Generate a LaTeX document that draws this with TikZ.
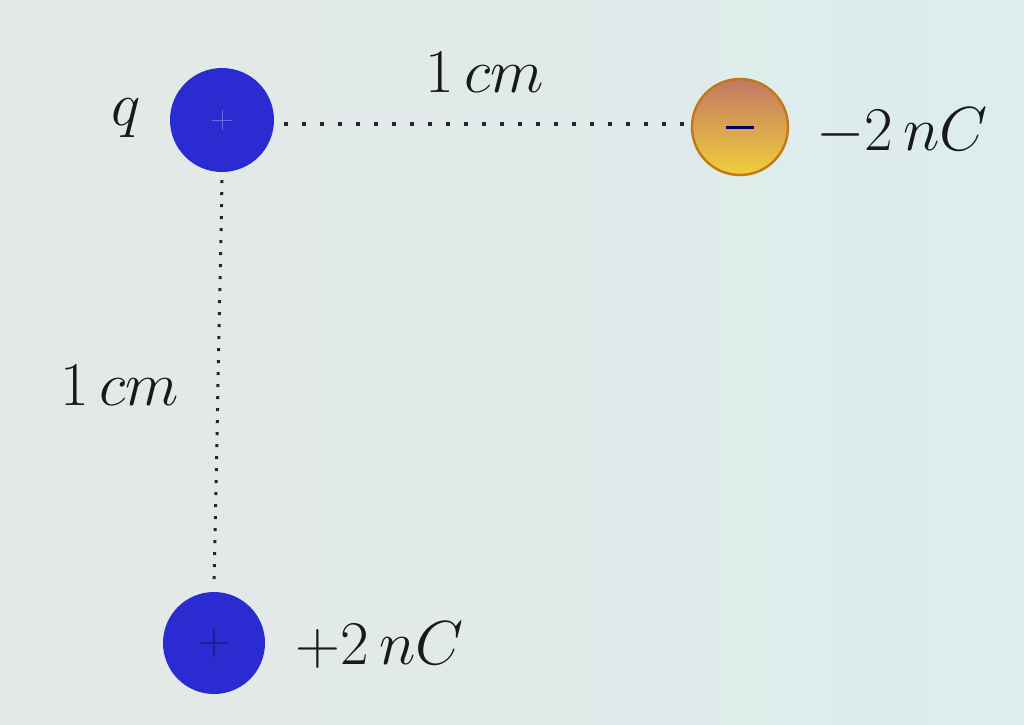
\documentclass[tikz,border=0pt]{standalone}
\usetikzlibrary{shadings}
\definecolor{bgL}{HTML}{E4E8E6}
\definecolor{bgR}{HTML}{DCEDEC}
\definecolor{chargeblue}{HTML}{2B2BD2}
\definecolor{plusline}{HTML}{6A6AE8}
\definecolor{negtop}{HTML}{C27866}
\definecolor{negbot}{HTML}{F2CE3A}
\definecolor{negedge}{HTML}{C07A18}
\definecolor{dotgray}{HTML}{252532}
\tikzset{
  lbl/.style={inner sep=0pt, font=\Huge, scale=2.5, text=black!90},
  poscharge/.style={circle, fill=chargeblue, minimum size=#1, inner sep=0pt},
  negcharge/.style={circle, draw=negedge, line width=2.5pt, top color=negtop, bottom color=negbot, minimum size=#1, inner sep=0pt},
  hsep/.style={dotgray, line width=3.5pt, dash pattern=on 3.5pt off 14.5pt},
  vsep/.style={dotgray, line width=3pt, dash pattern=on 3pt off 9pt}
}
\begin{document}
\begin{tikzpicture}[x=1pt,y=-1pt]
\shade[left color=bgL, right color=bgR] (0,0) rectangle (1024,724);
\useasboundingbox (0,0) rectangle (1024,724);
\node[poscharge=104pt] (q) at (222,120) {};
\node[negcharge=96pt] (neg) at (740,127) {};
\node[poscharge=102pt] (pos) at (214,643) {};
% signs
\draw[plusline, line width=1pt] ([xshift=-10pt]q.center) -- ([xshift=10pt]q.center) ([yshift=-10pt]q.center) -- ([yshift=10pt]q.center);
\draw[chargeblue!70!black, line width=2pt] ([xshift=-14pt]pos.center) -- ([xshift=14pt]pos.center) ([yshift=-14pt]pos.center) -- ([yshift=14pt]pos.center);
\draw[blue!40!black, line width=3pt] ([xshift=-14pt]neg.center) -- ([xshift=14pt]neg.center);
% separations
\path (q.east) ++(10,4) coordinate (h1);
\path (neg.west |- h1) ++(-2,0) coordinate (h2);
\draw[hsep] (h1) -- (h2);
\path (q.south) ++(0,8) coordinate (v1);
\path (pos.north) ++(0,-4) coordinate (v2);
\draw[vsep] (v1) -- (v2);
% labels
\node[lbl] (lq) at (126,118) {$q$};
\node[lbl] (lh) at (485,72) {$1\,cm$};
\node[lbl] (lneg) at (902,132) {$-2\,nC$};
\node[lbl] (lv) at (120,385) {$1\,cm$};
\node[lbl] (lpos) at (380,645) {$+2\,nC$};
\end{tikzpicture}
\end{document}
